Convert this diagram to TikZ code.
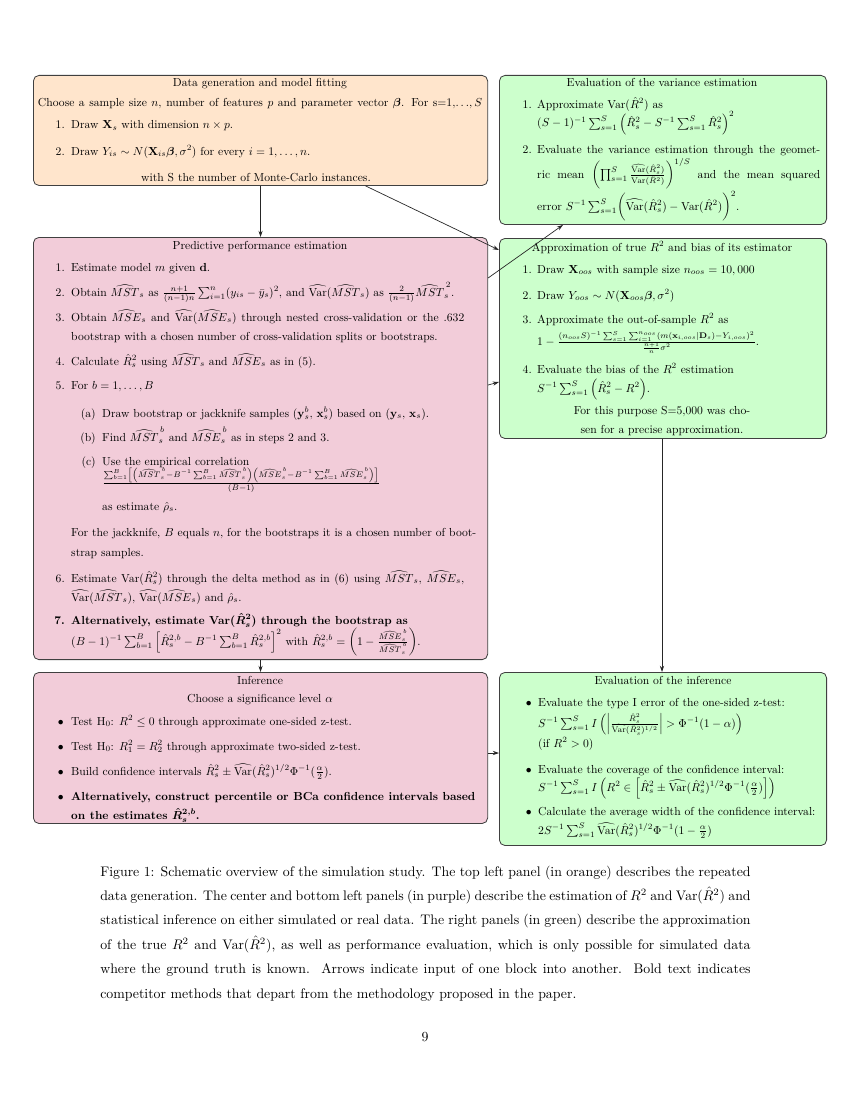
\documentclass[tikz,border=0pt]{standalone}
\usepackage{fix-cm}
\usepackage{amsmath}
\usetikzlibrary{arrows.meta,calc}
\newcommand\fs{\fontsize{10}{12}\selectfont}
\newcommand\jl[2]{\makebox[#1\dimexpr 0.0119048in\relax][s]{#2}}
\newcommand\wv{\widehat{\mathrm{Var}}}
\newcommand\Rh{\hat{R}}
\newcommand\bfm[1]{\hbox{\bfseries\boldmath #1}}
\begin{document}
\begin{tikzpicture}[x=0.01in,y=-0.01in,
  panel/.style={draw=black!75, line width=0.6pt, rounded corners=4pt, inner sep=0pt, anchor=north west},
  tl/.style={anchor=base west, inner sep=0pt, font=\fs, scale=0.84},
  tc/.style={anchor=base, inner sep=0pt, font=\fs, scale=0.84},
  lb/.style={anchor=base east, inner sep=0pt, font=\fs, scale=0.84},
  cl/.style={anchor=base west, inner sep=0pt, font=\fontsize{10}{12}\selectfont},
  arr/.style={-{Stealth[length=4.5pt,width=3pt]}, line width=0.5pt, black!85}]
\fill[white] (0,0) rectangle (850,1100);
\useasboundingbox (0,0) rectangle (850,1100);
% panels
\node[panel, fill=orange!20, minimum width=4.54in, minimum height=1.10in] (gen) at (33,75) {};
\node[panel, fill=green!20, minimum width=3.27in, minimum height=1.49in] (vare) at (499,75) {};
\node[panel, fill=purple!20, minimum width=4.54in, minimum height=4.22in] (pp) at (33,237) {};
\node[panel, fill=green!20, minimum width=3.27in, minimum height=2.00in] (apx) at (499,238) {};
\node[panel, fill=purple!20, minimum width=4.54in, minimum height=1.51in] (inf) at (33,672) {};
\node[panel, fill=green!20, minimum width=3.27in, minimum height=1.73in] (evi) at (499,672) {};
% Data generation
\node[tc] (g0) at (260,87) {Data generation and model fitting};
\node[tc] (g1) at (260,106) {\jl{444}{Choose a sample size $n$, number of features $p$ and parameter vector $\boldsymbol{\beta}$. For s=1,$\ldots$,\,$S$}};
\node[lb] (g2l) at (65,129) {1.};
\node[tl] (g2) at (71,129) {Draw $\mathbf{X}_s$ with dimension $n\times p$.};
\node[lb] (g3l) at (65,155) {2.};
\node[tl] (g3) at (71,155) {Draw $Y_{is}\sim N(\mathbf{X}_{is}\boldsymbol{\beta},\sigma^2)$ for every $i=1,\ldots,n$.};
\node[tc] (g4) at (256,181) {with S the number of Monte-Carlo instances.};
% Evaluation of the variance estimation
\node[tc] (v0) at (662,87) {Evaluation of the variance estimation};
\node[lb] (v1l) at (532,108) {1.};
\node[tl] (v1) at (537,108) {Approximate $\mathrm{Var}(\Rh^2)$ as};
\node[tl] (v1b) at (537,127) {$(S-1)^{-1}\sum_{s=1}^S\left(\Rh_s^2-S^{-1}\sum_{s=1}^S\Rh_s^2\right)^2$};
\node[lb] (v2l) at (532,153) {2.};
\node[tl] (v2) at (537,153) {\jl{283}{Evaluate the variance estimation through the geomet-}};
\node[tl] (v2b) at (537,178) {\jl{283}{ric mean $\biggl(\prod_{s=1}^S\frac{\wv(\Rh^2_s)}{\mathrm{Var}(\Rh^2)}\biggr)^{1/S}$ and the mean squared}};
\node[tl] (v2c) at (537,210) {error $S^{-1}\sum_{s=1}^S\biggl(\wv(\Rh_s^2)-\mathrm{Var}(\Rh^2)\biggr)^2$.};
% Predictive performance estimation
\node[tc] (p0) at (260,249) {Predictive performance estimation};
\node[lb] (p1l) at (65,271) {1.};
\node[tl] (p1) at (71,271) {Estimate model $m$ given $\mathbf{d}$.};
\node[lb] (p2l) at (65,296) {2.};
\node[tl] (p2) at (71,296) {Obtain $\widehat{MST}_s$ as $\frac{n+1}{(n-1)n}\sum_{i=1}^{n}(y_{is}-\bar{y}_s)^2$, and $\wv(\widehat{MST}_s)$ as $\frac{2}{(n-1)}\widehat{MST}_s^{\,2}$.};
\node[lb] (p3l) at (65,321) {3.};
\node[tl] (p3) at (71,321) {\jl{393}{Obtain $\widehat{MSE}_s$ and $\wv(\widehat{MSE}_s)$ through nested cross-validation or the .632}};
\node[tl] (p3b) at (71,340) {bootstrap with a chosen number of cross-validation splits or bootstraps.};
\node[lb] (p4l) at (65,365) {4.};
\node[tl] (p4) at (71,365) {Calculate $\Rh^2_s$ using $\widehat{MST}_s$ and $\widehat{MSE}_s$ as in (5).};
\node[lb] (p5l) at (65,389) {5.};
\node[tl] (p5) at (71,389) {For $b=1,\ldots,B$};
\node[lb] (pal) at (96,417) {(a)};
\node[tl] (pa) at (102,417) {Draw bootstrap or jackknife samples $(\mathbf{y}_s^b,\,\mathbf{x}_s^b)$ based on $(\mathbf{y}_s,\,\mathbf{x}_s)$.};
\node[lb] (pbl) at (96,441) {(b)};
\node[tl] (pb) at (102,441) {Find $\widehat{MST}_s^{\,b}$ and $\widehat{MSE}_s^{\,b}$ as in steps 2 and 3.};
\node[lb] (pcl) at (96,465) {(c)};
\node[tl] (pc) at (102,465) {Use the empirical correlation};
\node[tl] (pcf) at (102,486) {$\frac{\sum_{b=1}^B\left[\left(\widehat{MST}_s^{\,b}-B^{-1}\sum_{b=1}^B\widehat{MST}_s^{\,b}\right)\left(\widehat{MSE}_s^{\,b}-B^{-1}\sum_{b=1}^B\widehat{MSE}_s^{\,b}\right)\right]}{(B-1)}$};
\node[tl] (pcg) at (102,510) {as estimate $\hat{\rho}_s$.};
\node[tl] (pj) at (71,536) {\jl{405}{For the jackknife, $B$ equals $n$, for the bootstraps it is a chosen number of boot-}};
\node[tl] (pj2) at (71,556) {strap samples.};
\node[lb] (p6l) at (65,582) {6.};
\node[tl] (p6) at (71,582) {\jl{393}{Estimate $\mathrm{Var}(\Rh^2_s)$ through the delta method as in (6) using $\widehat{MST}_s$, $\widehat{MSE}_s$,}};
\node[tl] (p6b) at (71,601) {$\wv(\widehat{MST}_s)$, $\wv(\widehat{MSE}_s)$ and $\hat{\rho}_s$.};
\node[lb] (p7l) at (65,624) {{\bfseries 7.}};
\node[tl] (p7) at (71,624) {{\bfm{Alternatively, estimate Var$(\Rh^2_s)$ through the bootstrap as}}};
\node[tl] (p7b) at (71,645) {$(B-1)^{-1}\sum_{b=1}^B\left[\Rh_s^{2,b}-B^{-1}\sum_{b=1}^B\Rh_s^{2,b}\right]^2$ with $\Rh_s^{2,b}=\left(1-\frac{\widehat{MSE}_s^{\,b}}{\widehat{MST}_s^{\,b}}\right)$.};
% Approximation of true R2
\node[tc] (a0) at (662,251) {Approximation of true $R^2$ and bias of its estimator};
\node[lb] (a1l) at (532,273) {1.};
\node[tl] (a1) at (537,273) {Draw $\mathbf{X}_{oos}$ with sample size $n_{oos}=10,000$};
\node[lb] (a2l) at (532,299) {2.};
\node[tl] (a2) at (537,299) {Draw $Y_{oos}\sim N(\mathbf{X}_{oos}\boldsymbol{\beta},\sigma^2)$};
\node[lb] (a3l) at (532,323) {3.};
\node[tl] (a3) at (537,323) {Approximate the out-of-sample $R^2$ as};
\node[tl] (a3b) at (537,345) {$1-\frac{(n_{oos}S)^{-1}\sum_{s=1}^S\sum_{i=1}^{n_{oos}}\left(m(\mathbf{x}_{i,oos}|\mathbf{D}_s)-Y_{i,oos}\right)^2}{\frac{n+1}{n}\sigma^2}$.};
\node[lb] (a4l) at (532,373) {4.};
\node[tl] (a4) at (537,373) {Evaluate the bias of the $R^2$ estimation};
\node[tl] (a4b) at (537,392) {$S^{-1}\sum_{s=1}^S\left(\Rh_s^2-R^2\right)$.};
\node[tc] (a5) at (662,414) {For this purpose S=5,000 was cho-};
\node[tc] (a6) at (662,433) {sen for a precise approximation.};
% Inference
\node[tc] (i0) at (260,684) {Inference};
\node[tc] (i1) at (260,702) {Choose a significance level $\alpha$};
\node[lb] (i2l) at (64,725) {$\bullet$};
\node[tl] (i2) at (71,725) {Test H$_0$: $R^2\leq 0$ through approximate one-sided z-test.};
\node[lb] (i3l) at (64,750) {$\bullet$};
\node[tl] (i3) at (71,750) {Test H$_0$: $R^2_1=R^2_2$ through approximate two-sided z-test.};
\node[lb] (i4l) at (64,775) {$\bullet$};
\node[tl] (i4) at (71,775) {Build confidence intervals $\Rh^2_s\pm\wv(\Rh^2_s)^{1/2}\Phi^{-1}(\frac{\alpha}{2})$.};
\node[lb] (i5l) at (64,800) {$\bullet$};
\node[tl] (i5) at (71,800) {{\bfm{\jl{404}{Alternatively, construct percentile or BCa confidence intervals based}}}};
\node[tl] (i5b) at (71,819) {{\bfm{on the estimates $\Rh_s^{2,b}$.}}};
% Evaluation of the inference
\node[tc] (e0) at (663,684) {Evaluation of the inference};
\node[lb] (e1l) at (532,706) {$\bullet$};
\node[tl] (e1) at (538,706) {Evaluate the type I error of the one-sided z-test:};
\node[tl] (e1b) at (538,727) {$S^{-1}\sum_{s=1}^S I\left(\left|\frac{\Rh_s^2}{\wv(\Rh_s^2)^{1/2}}\right|>\Phi^{-1}(1-\alpha)\right)$};
\node[tl] (e1c) at (538,747) {(if $R^2>0$)};
\node[lb] (e2l) at (532,773) {$\bullet$};
\node[tl] (e2) at (538,773) {Evaluate the coverage of the confidence interval:};
\node[tl] (e2b) at (538,791) {$S^{-1}\sum_{s=1}^S I\left(R^2\in\left[\Rh_s^2\pm\wv(\Rh_s^2)^{1/2}\Phi^{-1}(\frac{\alpha}{2})\right]\right)$};
\node[lb] (e3l) at (532,815) {$\bullet$};
\node[tl] (e3) at (538,815) {Calculate the average width of the confidence interval:};
\node[tl] (e3b) at (538,834) {$2S^{-1}\sum_{s=1}^S\wv(\Rh_s^2)^{1/2}\Phi^{-1}(1-\frac{\alpha}{2})$};
% connectors
\draw[arr] (gen.south) -- (pp.north);
\draw[arr] ($(gen.south)+(105,0)$) -- ($(apx.north west)+(0,12)$);
\draw[arr] ($(pp.north east)+(0,41)$) -- ($(vare.south west)+(64,0)$);
\draw[arr] ($(pp.north east)+(0,148)$) -- ($(apx.north west)+(0,144)$);
\draw[arr] (pp.south) -- (inf.north);
\draw[arr] ($(apx.south west)+(163,0)$) -- ($(evi.north west)+(163,0)$);
\draw[arr] ($(inf.north east)+(0,81)$) -- ($(evi.north west)+(0,81)$);
% caption
\node[cl] (c1) at (100,876) {\makebox[6.5in][s]{Figure 1: Schematic overview of the simulation study. The top left panel (in orange) describes the repeated}};
\node[cl] (c2) at (100,900.4) {\makebox[6.5in][s]{data generation. The center and bottom left panels (in purple) describe the estimation of $R^2$ and $\mathrm{Var}(\hat{R}^2)$ and}};
\node[cl] (c3) at (100,924.8) {\makebox[6.5in][s]{statistical inference on either simulated or real data. The right panels (in green) describe the approximation}};
\node[cl] (c4) at (100,949.2) {\makebox[6.5in][s]{of the true $R^2$ and $\mathrm{Var}(\hat{R}^2)$, as well as performance evaluation, which is only possible for simulated data}};
\node[cl] (c5) at (100,973.6) {\makebox[6.5in][s]{where the ground truth is known.\ \ Arrows indicate input of one block into another.\ \ Bold text indicates}};
\node[cl] (c6) at (100,998) {competitor methods that depart from the methodology proposed in the paper.};
\node[anchor=base, inner sep=0pt, font=\fontsize{10}{12}\selectfont] (pg) at (425,1041) {9};
\end{tikzpicture}
\end{document}
